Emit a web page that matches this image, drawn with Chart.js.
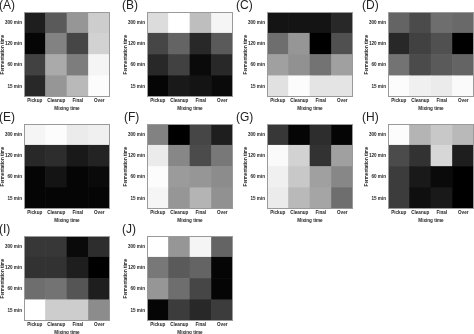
<!DOCTYPE html>
<html>
<head>
<meta charset="utf-8">
<script src="https://cdn.jsdelivr.net/npm/chart.js@4"></script>
<style>
  body { margin: 0; width: 474px; height: 334px; background: #fff; overflow: hidden; position: relative; }
  canvas { position: absolute; }
  .tag { position: absolute; font: 12px "Liberation Sans", Arial, sans-serif; color: #222; z-index: 2; }
</style>
</head>
<body>
<script>
const mixingTimes = ['Pickup', 'Cleanup', 'Final', 'Over'];
const fermentationTimes = ['15 min', '60 min', '120 min', '300 min']; // bottom to top

// gray level 0 = black, 255 = white; rows from top (300 min) to bottom (15 min)
const grayA = [[30, 90, 150, 205], [5, 130, 70, 210], [65, 170, 125, 245], [40, 150, 185, 252]];
const grayB = [[220, 255, 190, 245], [70, 100, 40, 90], [40, 65, 10, 40], [5, 25, 20, 10]];
const grayC = [[20, 20, 20, 40], [110, 150, 0, 80], [160, 145, 115, 160], [225, 252, 228, 228]];
const grayD = [[100, 75, 110, 105], [40, 65, 80, 0], [115, 75, 90, 100], [252, 240, 235, 250]];
const grayE = [[245, 252, 235, 240], [40, 45, 25, 35], [5, 20, 5, 10], [5, 5, 5, 5]];
const grayF = [[130, 0, 70, 30], [235, 135, 75, 120], [252, 155, 150, 140], [245, 150, 180, 145]];
const grayG = [[55, 5, 45, 5], [250, 210, 50, 160], [240, 200, 160, 135], [235, 185, 165, 110]];
const grayH = [[252, 180, 200, 185], [75, 50, 215, 30], [60, 25, 10, 0], [60, 15, 25, 0]];
const grayI = [[55, 55, 10, 45], [50, 50, 30, 0], [110, 115, 85, 30], [255, 205, 205, 140]];
const grayJ = [[255, 150, 245, 100], [120, 90, 100, 5], [150, 110, 70, 5], [5, 60, 40, 60]];

const panels = [
  { tag: '(A)', gray: grayA, x: 0, y: 0 },
  { tag: '(B)', gray: grayB, x: 123, y: 0 },
  { tag: '(C)', gray: grayC, x: 243, y: 0 },
  { tag: '(D)', gray: grayD, x: 364, y: 0 },
  { tag: '(E)', gray: grayE, x: 0, y: 112 },
  { tag: '(F)', gray: grayF, x: 123, y: 112 },
  { tag: '(G)', gray: grayG, x: 243, y: 112 },
  { tag: '(H)', gray: grayH, x: 364, y: 112 },
  { tag: '(I)', gray: grayI, x: 0, y: 224 },
  { tag: '(J)', gray: grayJ, x: 123, y: 224 }
];

const tagPos = [[-1, -2], [122, -2], [236, -2], [362, -2], [-1, 110], [124, 110], [236, 110], [362, 110], [-1, 222], [122, 222]];

const smallFont = { family: '"Liberation Sans", Arial, sans-serif', size: 4.6, weight: 'bold' };

// thin frame round the plot area
const framePlugin = {
  id: 'frame',
  afterDatasetsDraw(chart) {
    const a = chart.chartArea;
    const ctx = chart.ctx;
    ctx.save();
    ctx.strokeStyle = '#9a9a9a';
    ctx.lineWidth = 1;
    ctx.strokeRect(a.left + 0.5, a.top + 0.5, a.right - a.left - 1, a.bottom - a.top - 1);
    ctx.restore();
  }
};

const grayColor = (g) => `rgb(${g}, ${g}, ${g})`;

panels.forEach((p, i) => {
  const canvas = document.createElement('canvas');
  canvas.width = 112;
  canvas.height = 112;
  canvas.style.left = p.x + 'px';
  canvas.style.top = p.y + 'px';
  document.body.appendChild(canvas);

  const tag = document.createElement('div');
  tag.className = 'tag';
  tag.textContent = p.tag;
  tag.style.left = tagPos[i][0] + 'px';
  tag.style.top = tagPos[i][1] + 'px';
  document.body.appendChild(tag);

  // one stacked dataset per fermentation time, each cell one unit high
  const datasets = fermentationTimes.map((label, r) => ({
    label: label,
    data: mixingTimes.map(() => 1),
    backgroundColor: p.gray[3 - r].map(grayColor),
    borderWidth: 0,
    categoryPercentage: 1,
    barPercentage: 1
  }));

  new Chart(canvas, {
    type: 'bar',
    data: { labels: mixingTimes, datasets: datasets },
    options: {
      responsive: false,
      animation: false,
      devicePixelRatio: 1,
      layout: { padding: { top: 12, right: 2, left: 0, bottom: 0 } },
      plugins: { legend: { display: false }, tooltip: { enabled: false } },
      scales: {
        x: {
          stacked: true,
          grid: { display: false, drawTicks: false },
          border: { display: false },
          ticks: { font: smallFont, color: '#222', padding: 1, maxRotation: 0, autoSkip: false },
          title: { display: true, text: 'Mixing time', font: smallFont, color: '#222', padding: { top: 0, bottom: 1 } },
          afterFit: (scale) => { scale.height = 15; }
        },
        y: {
          stacked: true,
          min: 0,
          max: 4,
          grid: { display: false, drawTicks: false },
          border: { display: false },
          afterBuildTicks: (scale) => { scale.ticks = [0.5, 1.5, 2.5, 3.5].map(v => ({ value: v })); },
          ticks: {
            font: smallFont,
            color: '#222',
            padding: 2,
            callback: (v) => fermentationTimes[Math.floor(v)]
          },
          title: { display: true, text: 'Fermentation time', font: smallFont, color: '#222', padding: 0 },
          afterFit: (scale) => { scale.width = 24; }
        }
      }
    },
    plugins: [framePlugin]
  });
});
</script>
</body>
</html>
